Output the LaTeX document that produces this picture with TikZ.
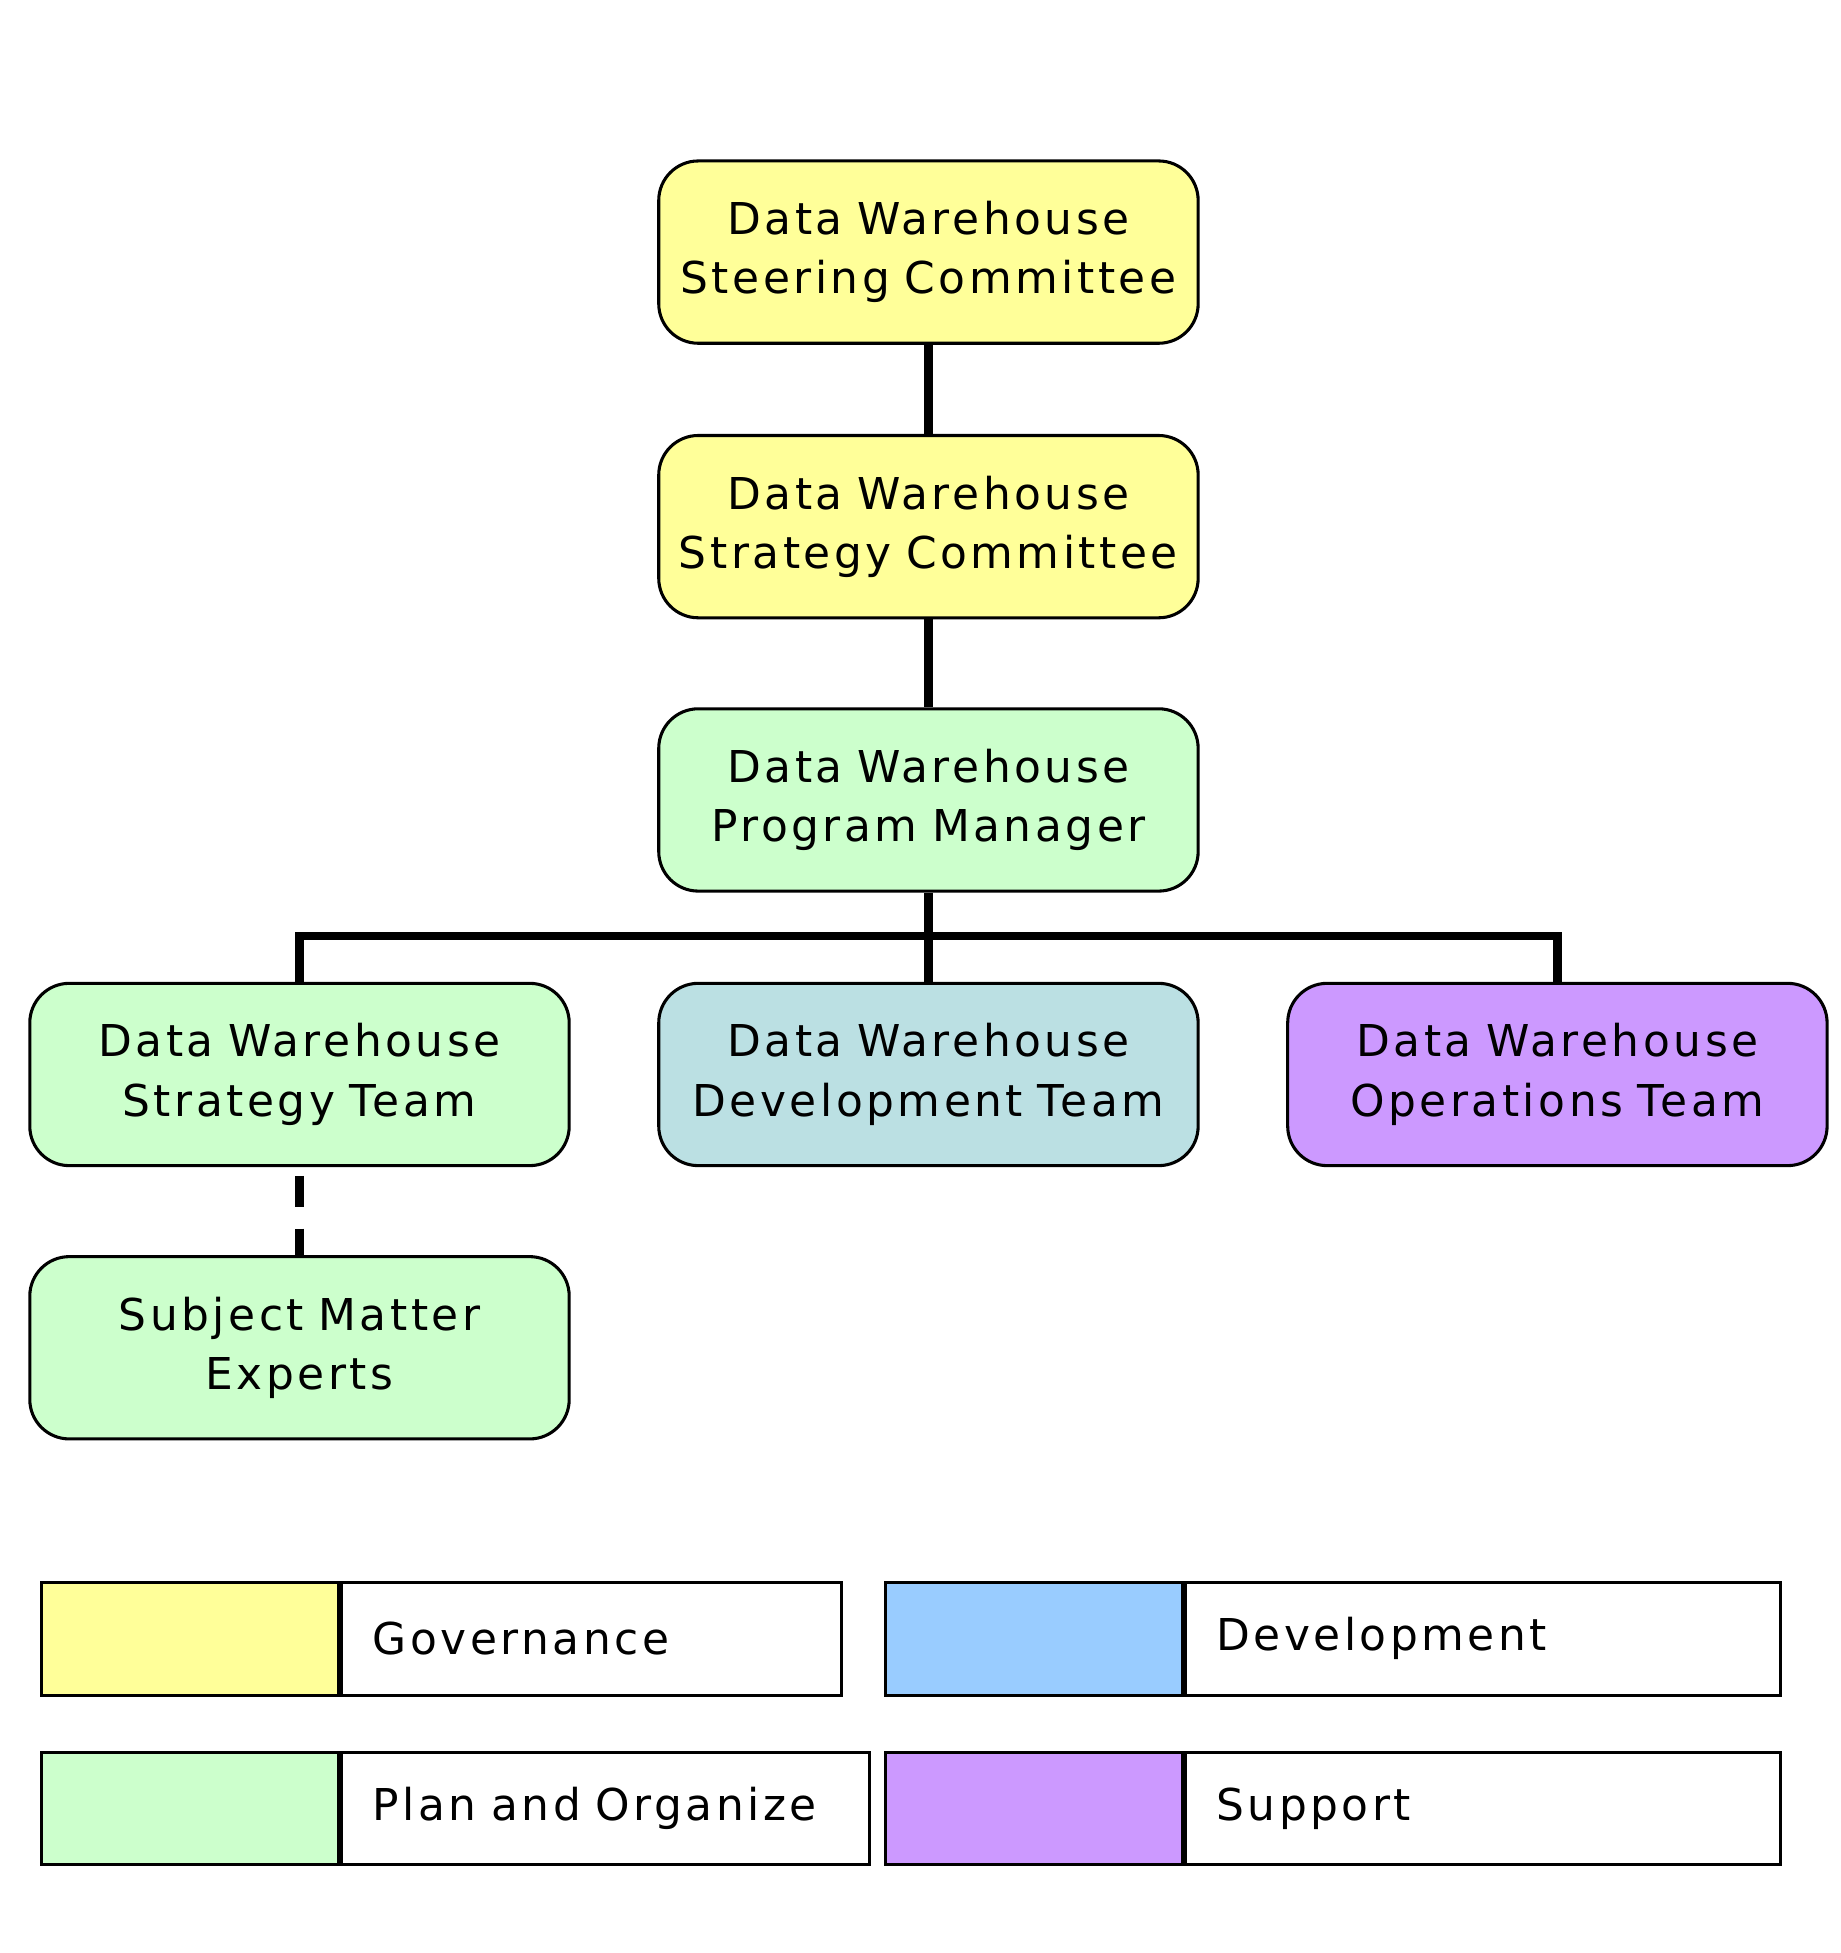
\documentclass[tikz,border=0pt]{standalone}
\usepackage{fontspec}
\setmainfont{DejaVu Sans}[LetterSpace=8]
\usetikzlibrary{positioning}
\definecolor{govyellow}{RGB}{255,255,153}
\definecolor{plangreen}{RGB}{204,255,204}
\definecolor{devgray}{RGB}{187,224,227}
\definecolor{devblue}{RGB}{153,204,255}
\definecolor{suppurple}{RGB}{204,153,255}
\tikzset{
  unit/.style={draw, line width=0.7pt, rounded corners=9pt, text width=4.1cm, inner sep=1pt,
    minimum width=4.32cm, minimum height=1.46cm, align=center,
    font=\fontsize{10}{13.5}\selectfont},
  link/.style={line width=2pt},
  swatch/.style={draw, line width=0.7pt, minimum width=2.38cm, minimum height=0.9cm, inner sep=0pt},
  caption/.style={draw, line width=0.7pt, minimum height=0.9cm, inner xsep=0.25cm, anchor=west,
    align=left, font=\fontsize{10}{13}\selectfont}
}
\begin{document}
\begin{tikzpicture}[x=0.01cm, y=-0.01cm]
 \useasboundingbox (0,0) rectangle (1475,1565);
 \node[unit, fill=govyellow] (steer) at (744,202) {Data Warehouse\\Steering Committee};
 \node[unit, fill=govyellow] (strat) at (744,422) {Data Warehouse\\Strategy Committee};
 \node[unit, fill=plangreen] (prog) at (744,641) {Data Warehouse\\Program Manager};
 \node[unit, fill=plangreen] (steam) at (240,861) {Data Warehouse\\Strategy Team};
 \node[unit, fill=devgray] (dteam) at (744,861) {Data Warehouse\\Development Team};
 \node[unit, fill=suppurple] (oteam) at (1248,861) {Data Warehouse\\Operations Team};
 \node[unit, fill=plangreen] (sme) at (240,1080) {Subject Matter\\Experts};
 \coordinate (bus) at (744,750);
 \draw[link] (steer) -- (strat);
 \draw[link] (strat) -- (prog);
 \draw[link] (prog) -- (dteam);
 \draw[link] (steam.north) |- (bus) -| (oteam.north);
 \draw[link, dash pattern=on 7pt off 5pt, dash phase=-2pt] (steam) -- (sme);
 % legend
 \node[swatch, fill=govyellow, anchor=north west] (gsw) at (32,1267) {};
 \node[caption, text width=3.5cm] (gtx) at (gsw.east) {Governance};
 \node[swatch, fill=plangreen, anchor=north west] (psw) at (32,1403) {};
 \node[caption, text width=3.73cm] (ptx) at (psw.east) {Plan and Organize};
 \node[swatch, fill=devblue, anchor=north west] (dsw) at (708,1267) {};
 \node[caption, text width=4.27cm] (dtx) at (dsw.east) {Development};
 \node[swatch, fill=suppurple, anchor=north west] (ssw) at (708,1403) {};
 \node[caption, text width=4.27cm] (stx) at (ssw.east) {Support};
\end{tikzpicture}
\end{document}
